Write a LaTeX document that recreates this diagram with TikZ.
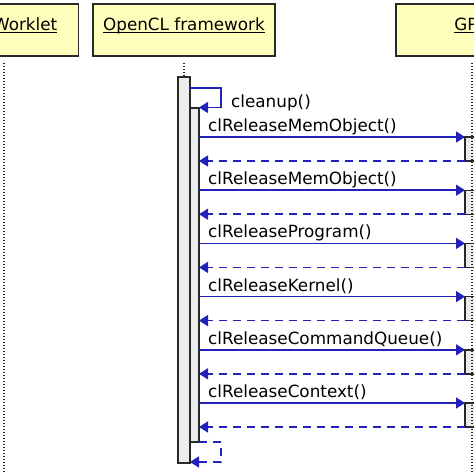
\documentclass[tikz,border=0pt]{standalone}
\usepackage{fontspec}
\setmainfont{DejaVu Sans}
\usetikzlibrary{arrows.meta}
\definecolor{msgblue}{RGB}{34,34,187}
\definecolor{hdryellow}{RGB}{255,255,187}
\definecolor{bargray}{RGB}{236,236,236}
\definecolor{edgegray}{RGB}{40,40,40}
\newcommand{\myul}[1]{\setbox0\hbox{#1}\rlap{\rule[-2.6pt]{\wd0}{1pt}}\box0}
\begin{document}
\begin{tikzpicture}[x=1pt,y=-1pt,
  font=\fontsize{16.8}{19}\selectfont,
  hdr/.style={draw=edgegray, fill=hdryellow, line width=1.4pt, inner ysep=0pt,
              text height=26pt, text depth=26pt},
  lifeline/.style={draw=edgegray, line width=1.2pt, dash pattern=on 1.2pt off 1.8pt},
  actbar/.style={draw=edgegray, fill=bargray, line width=1.4pt, inner sep=0pt, outer sep=0pt},
  call/.style={draw=msgblue, line width=1.5pt, -{Triangle[length=9pt,width=11pt]}},
  ret/.style={call, dash pattern=on 8pt off 6pt},
  msg/.style={anchor=base west, inner sep=0pt}
]
\path[use as bounding box] (0,0) rectangle (474,474);
\clip (0,0) rectangle (474,474);

% headers
\node[hdr, anchor=east, inner xsep=21pt] (worklet) at (79,30) {\myul{Worklet}};
\node[hdr, minimum width=182pt] (ocl) at (184,30) {\myul{OpenCL framework}};
\node[hdr, minimum width=152pt] (gpu) at (472,30) {\myul{GPU}};

% lifelines
\coordinate (wlend) at (4,474);
\coordinate (gpuend) at (472,474);
\draw[lifeline] ([yshift=-6pt]worklet.south -| wlend) -- (wlend);

% activation bars of the framework
\node[actbar, minimum width=12pt, minimum height=386pt] (outer) at (184,270) {};
\draw[lifeline] ([yshift=-6pt]ocl.south -| outer.north) -- (outer.north);
\node[actbar, minimum width=9pt, minimum height=334pt] (inner) at (194.5,275) {};

% self call
\draw[call] (outer.east |- 0,88) -- (221,88) -- (221,107.5) -- (inner.east |- 0,107.5);
\node[msg] (cleanup) at (231,107) {cleanup()};

% messages
\foreach \lab [count=\i from 0] in {clReleaseMemObject(),clReleaseMemObject(),clReleaseProgram(),clReleaseKernel(),clReleaseCommandQueue(),clReleaseContext()} {
  \pgfmathsetmacro\yc{137+53.2*\i}
  \node[actbar, minimum width=12pt, minimum height=24pt] (g\i) at (471,\yc+12) {};
  \draw[call] (inner.east |- g\i.north) -- (g\i.north west);
  \draw[ret] (g\i.south west) -- (inner.east |- g\i.south);
  \node[msg] (l\i) at (208,\yc-5.5) {\lab};
}
\draw[lifeline] ([yshift=-6pt]gpu.south) -- (gpuend);

% final return
\draw[ret] (inner.south east) -- (221,442) -- (221,462) -- (outer.east |- 0,462);
\end{tikzpicture}
\end{document}
